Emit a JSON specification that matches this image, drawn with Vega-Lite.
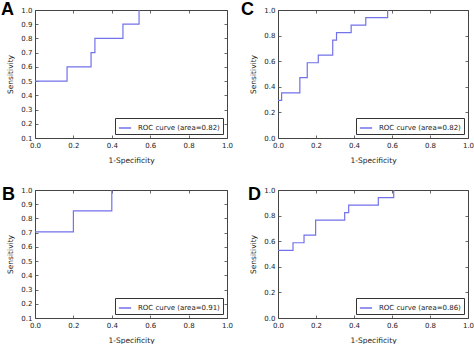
{
  "$schema": "https://vega.github.io/schema/vega-lite/v6.json",
  "padding": 0,
  "background": "white",
  "columns": 2,
  "bounds": "flush",
  "spacing": {"row": 52, "column": 51},
  "resolve": {"scale": {"color": "independent"}, "legend": {"color": "independent"}},
  "config": {
    "view": {"stroke": "#444", "strokeWidth": 1},
    "font": "DejaVu Sans",
    "axis": {
      "domain": false, "grid": false,
      "tickSize": -3, "tickColor": "#444", "tickWidth": 0.8,
      "labelFontSize": 7, "labelColor": "#222", "labelPadding": 6,
      "titleFontSize": 7.5, "titleFontWeight": "normal", "titleColor": "#222",
      "labelFont": "DejaVu Sans", "titleFont": "DejaVu Sans"
    },
    "axisX": {"titlePadding": 8, "labelFlush": false},
    "axisY": {"titlePadding": 6},
    "legend": {
      "orient": "bottom-right", "offset": 4, "padding": 3,
      "strokeColor": "#333", "fillColor": "white", "cornerRadius": 0,
      "symbolType": "stroke", "symbolSize": 150, "symbolStrokeWidth": 1.5,
      "labelFontSize": 7, "labelColor": "#222", "labelFont": "DejaVu Sans", "labelOffset": 6
    },
    "title": {"anchor": "start", "frame": "group", "fontSize": 18, "fontWeight": "bold", "font": "Liberation Sans", "baseline": "top", "color": "#000"}
  },
  "concat": [
    {
      "title": {"text": "A", "dx": -34, "offset": -13},
      "width": 192, "height": 128,
      "data": {"values": [
        {"x": 0, "y": 0.5, "series": "ROC curve (area=0.82)"},
        {"x": 0.167, "y": 0.6, "series": "ROC curve (area=0.82)"},
        {"x": 0.292, "y": 0.7, "series": "ROC curve (area=0.82)"},
        {"x": 0.312, "y": 0.8, "series": "ROC curve (area=0.82)"},
        {"x": 0.458, "y": 0.9, "series": "ROC curve (area=0.82)"},
        {"x": 0.542, "y": 1.0, "series": "ROC curve (area=0.82)"}
      ]},
      "layer": [
        {
          "mark": {"type": "line", "interpolate": "step-after", "strokeWidth": 1.2},
          "encoding": {
            "x": {"field": "x", "type": "quantitative", "scale": {"domain": [0, 1], "nice": false}, "axis": {"title": "1-Specificity", "values": [0, 0.2, 0.4, 0.6, 0.8, 1.0], "format": ".1f"}},
            "y": {"field": "y", "type": "quantitative", "scale": {"domain": [0.1, 1], "nice": false, "zero": false}, "axis": {"title": "Sensitivity", "values": [0.1, 0.2, 0.3, 0.4, 0.5, 0.6, 0.7, 0.8, 0.9, 1.0], "format": ".1f"}},
            "color": {"field": "series", "type": "nominal", "scale": {"range": ["#7272ea"]}, "legend": {"title": null}}
          }
        },
        {
          "mark": {"type": "line", "opacity": 0},
          "encoding": {
            "x": {"field": "x", "type": "quantitative", "axis": {"orient": "top", "labels": false, "title": null, "values": [0, 0.2, 0.4, 0.6, 0.8, 1.0]}},
            "y": {"field": "y", "type": "quantitative", "axis": {"orient": "right", "labels": false, "title": null, "values": [0.1, 0.2, 0.3, 0.4, 0.5, 0.6, 0.7, 0.8, 0.9, 1.0]}}
          }
        }
      ],
      "resolve": {"axis": {"x": "independent", "y": "independent"}}
    },
    {
      "title": {"text": "C", "dx": -37, "offset": -13},
      "width": 190, "height": 128,
      "data": {"values": [
        {"x": 0, "y": 0.294, "series": "ROC curve (area=0.82)"},
        {"x": 0.019, "y": 0.353, "series": "ROC curve (area=0.82)"},
        {"x": 0.115, "y": 0.471, "series": "ROC curve (area=0.82)"},
        {"x": 0.154, "y": 0.588, "series": "ROC curve (area=0.82)"},
        {"x": 0.212, "y": 0.647, "series": "ROC curve (area=0.82)"},
        {"x": 0.288, "y": 0.765, "series": "ROC curve (area=0.82)"},
        {"x": 0.308, "y": 0.824, "series": "ROC curve (area=0.82)"},
        {"x": 0.385, "y": 0.882, "series": "ROC curve (area=0.82)"},
        {"x": 0.462, "y": 0.941, "series": "ROC curve (area=0.82)"},
        {"x": 0.577, "y": 1.0, "series": "ROC curve (area=0.82)"}
      ]},
      "layer": [
        {
          "mark": {"type": "line", "interpolate": "step-after", "strokeWidth": 1.2},
          "encoding": {
            "x": {"field": "x", "type": "quantitative", "scale": {"domain": [0, 1], "nice": false}, "axis": {"title": "1-Specificity", "values": [0, 0.2, 0.4, 0.6, 0.8, 1.0], "format": ".1f"}},
            "y": {"field": "y", "type": "quantitative", "scale": {"domain": [0, 1], "nice": false}, "axis": {"title": "Sensitivity", "values": [0, 0.2, 0.4, 0.6, 0.8, 1.0], "format": ".1f"}},
            "color": {"field": "series", "type": "nominal", "scale": {"range": ["#7272ea"]}, "legend": {"title": null}}
          }
        },
        {
          "mark": {"type": "line", "opacity": 0},
          "encoding": {
            "x": {"field": "x", "type": "quantitative", "axis": {"orient": "top", "labels": false, "title": null, "values": [0, 0.2, 0.4, 0.6, 0.8, 1.0]}},
            "y": {"field": "y", "type": "quantitative", "axis": {"orient": "right", "labels": false, "title": null, "values": [0, 0.2, 0.4, 0.6, 0.8, 1.0]}}
          }
        }
      ],
      "resolve": {"axis": {"x": "independent", "y": "independent"}}
    },
    {
      "title": {"text": "B", "dx": -33, "offset": -18},
      "width": 192, "height": 128,
      "data": {"values": [
        {"x": 0, "y": 0.706, "series": "ROC curve (area=0.91)"},
        {"x": 0.2, "y": 0.853, "series": "ROC curve (area=0.91)"},
        {"x": 0.4, "y": 1.0, "series": "ROC curve (area=0.91)"}
      ]},
      "layer": [
        {
          "mark": {"type": "line", "interpolate": "step-after", "strokeWidth": 1.2},
          "encoding": {
            "x": {"field": "x", "type": "quantitative", "scale": {"domain": [0, 1], "nice": false}, "axis": {"title": "1-Specificity", "values": [0, 0.2, 0.4, 0.6, 0.8, 1.0], "format": ".1f"}},
            "y": {"field": "y", "type": "quantitative", "scale": {"domain": [0.1, 1], "nice": false, "zero": false}, "axis": {"title": "Sensitivity", "values": [0.1, 0.2, 0.3, 0.4, 0.5, 0.6, 0.7, 0.8, 0.9, 1.0], "format": ".1f"}},
            "color": {"field": "series", "type": "nominal", "scale": {"range": ["#7272ea"]}, "legend": {"title": null}}
          }
        },
        {
          "mark": {"type": "line", "opacity": 0},
          "encoding": {
            "x": {"field": "x", "type": "quantitative", "axis": {"orient": "top", "labels": false, "title": null, "values": [0, 0.2, 0.4, 0.6, 0.8, 1.0]}},
            "y": {"field": "y", "type": "quantitative", "axis": {"orient": "right", "labels": false, "title": null, "values": [0.1, 0.2, 0.3, 0.4, 0.5, 0.6, 0.7, 0.8, 0.9, 1.0]}}
          }
        }
      ],
      "resolve": {"axis": {"x": "independent", "y": "independent"}}
    },
    {
      "title": {"text": "D", "dx": -30, "offset": -18},
      "width": 190, "height": 128,
      "data": {"values": [
        {"x": 0, "y": 0.529, "series": "ROC curve (area=0.86)"},
        {"x": 0.079, "y": 0.588, "series": "ROC curve (area=0.86)"},
        {"x": 0.137, "y": 0.647, "series": "ROC curve (area=0.86)"},
        {"x": 0.198, "y": 0.765, "series": "ROC curve (area=0.86)"},
        {"x": 0.351, "y": 0.824, "series": "ROC curve (area=0.86)"},
        {"x": 0.372, "y": 0.882, "series": "ROC curve (area=0.86)"},
        {"x": 0.528, "y": 0.941, "series": "ROC curve (area=0.86)"},
        {"x": 0.609, "y": 1.0, "series": "ROC curve (area=0.86)"}
      ]},
      "layer": [
        {
          "mark": {"type": "line", "interpolate": "step-after", "strokeWidth": 1.2},
          "encoding": {
            "x": {"field": "x", "type": "quantitative", "scale": {"domain": [0, 1], "nice": false}, "axis": {"title": "1-Specificity", "values": [0, 0.2, 0.4, 0.6, 0.8, 1.0], "format": ".1f"}},
            "y": {"field": "y", "type": "quantitative", "scale": {"domain": [0, 1], "nice": false}, "axis": {"title": "Sensitivity", "values": [0, 0.2, 0.4, 0.6, 0.8, 1.0], "format": ".1f"}},
            "color": {"field": "series", "type": "nominal", "scale": {"range": ["#7272ea"]}, "legend": {"title": null}}
          }
        },
        {
          "mark": {"type": "line", "opacity": 0},
          "encoding": {
            "x": {"field": "x", "type": "quantitative", "axis": {"orient": "top", "labels": false, "title": null, "values": [0, 0.2, 0.4, 0.6, 0.8, 1.0]}},
            "y": {"field": "y", "type": "quantitative", "axis": {"orient": "right", "labels": false, "title": null, "values": [0, 0.2, 0.4, 0.6, 0.8, 1.0]}}
          }
        }
      ],
      "resolve": {"axis": {"x": "independent", "y": "independent"}}
    }
  ]
}
